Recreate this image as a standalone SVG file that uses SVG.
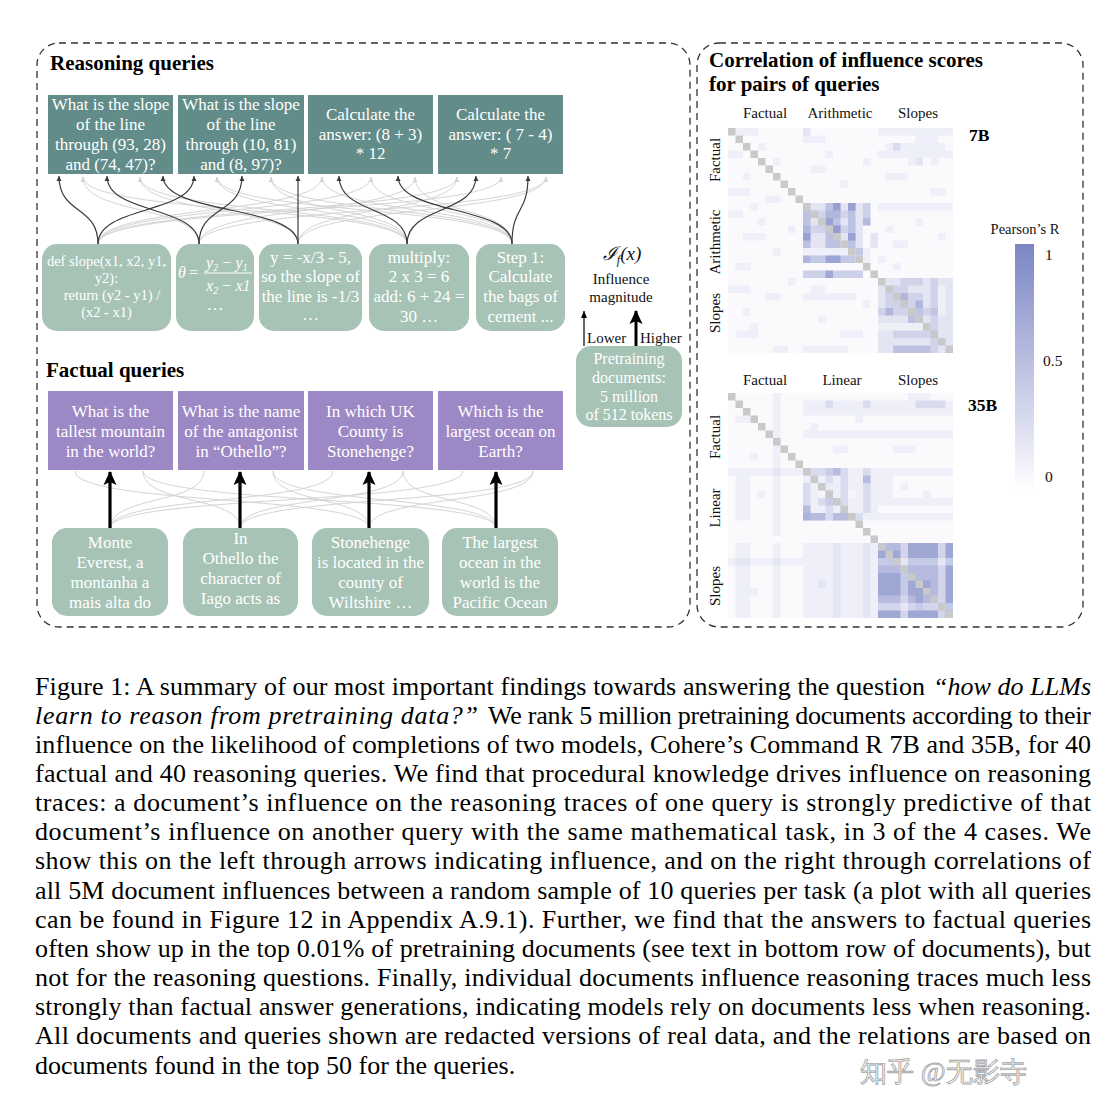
<svg xmlns="http://www.w3.org/2000/svg" width="1119" height="1105" viewBox="0 0 1119 1105">
<style>
text{font-family:"Liberation Serif","Times New Roman",serif;}
.panel{fill:none;stroke:#333;stroke-width:1.3;stroke-dasharray:7 5;}
.h{font-weight:bold;font-size:21px;fill:#000;}
.qr{fill:#618c89;}
.qf{fill:#9c88c5;}
.doc{fill:#a6c3b6;}
.wt{fill:#fff;font-size:17px;text-anchor:middle;}
.dk{fill:none;stroke:#3a3a3a;stroke-width:1.2;}
.gr{fill:none;stroke:#d4d4d4;stroke-width:1;}
.th{fill:none;stroke:#000;stroke-width:3.2;}
.lab{font-size:15px;fill:#111;text-anchor:middle;}
.cap{font-size:26px;fill:#000;}
.hm rect{fill:#7b85c4;}
.hm .b0{opacity:.04}
.hm .b1{opacity:.09}
.hm .b2{opacity:.18}
.hm .b3{opacity:.36}
.hm .b4{opacity:.55}
.hm .w{fill:#fff;opacity:.4}
.dg{fill:#c9c9c9;}
</style>
<defs>
<marker id="ah" markerUnits="userSpaceOnUse" markerWidth="6" markerHeight="6" refX="5" refY="3" orient="auto"><path d="M0,0.5 L5,3 L0,5.5 z" fill="#3a3a3a"/></marker>
<marker id="ag" markerUnits="userSpaceOnUse" markerWidth="6" markerHeight="6" refX="5" refY="3" orient="auto"><path d="M0,0.8 L5,3 L0,5.2 z" fill="#d4d4d4"/></marker>
<marker id="ab" markerUnits="userSpaceOnUse" markerWidth="16" markerHeight="14" refX="13" refY="7" orient="auto"><path d="M0,0.5 L14,7 L0,13.5 L3,7 z" fill="#000"/></marker>
<marker id="ak" markerUnits="userSpaceOnUse" markerWidth="8" markerHeight="8" refX="7" refY="4" orient="auto"><path d="M0,1 L7,4 L0,7 z" fill="#000"/></marker>
<linearGradient id="cb" x1="0" y1="0" x2="0" y2="1"><stop offset="0" stop-color="#7b85c4"/><stop offset="1" stop-color="#ffffff"/></linearGradient>
</defs>

<!-- panels -->
<rect class="panel" x="37" y="43" width="653" height="584" rx="22"/>
<rect class="panel" x="697" y="43" width="386" height="584" rx="22"/>

<text class="h" x="50" y="70">Reasoning queries</text>
<text class="h" x="46" y="377">Factual queries</text>

<!-- connectors -->
<g id="connectors">
<path class="gr" marker-end="url(#ag)" d="M98 244 C98 205 322 215 322 177"/>
<path class="gr" marker-end="url(#ag)" d="M98 244 C98 205 371 215 371 177"/>
<path class="gr" marker-end="url(#ag)" d="M98 244 C98 205 457 215 457 177"/>
<path class="gr" marker-end="url(#ag)" d="M98 244 C98 205 501 215 501 177"/>
<path class="gr" marker-end="url(#ag)" d="M199 244 C199 205 83 215 83 177"/>
<path class="gr" marker-end="url(#ag)" d="M199 244 C199 205 415 215 415 177"/>
<path class="gr" marker-end="url(#ag)" d="M199 244 C199 205 546 215 546 177"/>
<path class="gr" marker-end="url(#ag)" d="M298 244 C298 205 140 215 140 177"/>
<path class="gr" marker-end="url(#ag)" d="M298 244 C298 205 457 215 457 177"/>
<path class="gr" marker-end="url(#ag)" d="M298 244 C298 205 546 215 546 177"/>
<path class="gr" marker-end="url(#ag)" d="M407 244 C407 205 83 215 83 177"/>
<path class="gr" marker-end="url(#ag)" d="M407 244 C407 205 140 215 140 177"/>
<path class="gr" marker-end="url(#ag)" d="M407 244 C407 205 217 215 217 177"/>
<path class="gr" marker-end="url(#ag)" d="M407 244 C407 205 271 215 271 177"/>
<path class="gr" marker-end="url(#ag)" d="M512 244 C512 205 217 215 217 177"/>
<path class="gr" marker-end="url(#ag)" d="M512 244 C512 205 271 215 271 177"/>
<path class="gr" marker-end="url(#ag)" d="M512 244 C512 205 322 215 322 177"/>
<path class="gr" marker-end="url(#ag)" d="M512 244 C512 205 371 215 371 177"/>
<path class="gr" marker-end="url(#ag)" d="M512 244 C512 205 415 215 415 177"/>
<path class="dk" marker-end="url(#ah)" d="M98 244 C98 205 59 215 59 176"/>
<path class="dk" marker-end="url(#ah)" d="M98 244 C98 205 194 215 194 176"/>
<path class="dk" marker-end="url(#ah)" d="M199 244 C199 205 107 215 107 176"/>
<path class="dk" marker-end="url(#ah)" d="M199 244 C199 205 242 215 242 176"/>
<path class="dk" marker-end="url(#ah)" d="M298 244 C298 205 163 215 163 176"/>
<path class="dk" marker-end="url(#ah)" d="M298 244 L298 176"/>
<path class="dk" marker-end="url(#ah)" d="M407 244 C407 205 339 215 339 176"/>
<path class="dk" marker-end="url(#ah)" d="M407 244 C407 205 476 215 476 176"/>
<path class="dk" marker-end="url(#ah)" d="M512 244 C512 205 398 215 398 176"/>
<path class="dk" marker-end="url(#ah)" d="M512 244 C512 205 528 215 528 176"/>
<path class="gr" d="M110 528 C110 495 204 505 204 471"/>
<path class="gr" d="M110 528 C110 495 333 505 333 471"/>
<path class="gr" d="M110 528 C110 495 463 505 463 471"/>
<path class="gr" d="M240 528 C240 495 143 505 143 471"/>
<path class="gr" d="M240 528 C240 495 403 505 403 471"/>
<path class="gr" d="M240 528 C240 495 533 505 533 471"/>
<path class="gr" d="M369 528 C369 495 75 505 75 471"/>
<path class="gr" d="M369 528 C369 495 273 505 273 471"/>
<path class="gr" d="M369 528 C369 495 533 505 533 471"/>
<path class="gr" d="M496 528 C496 495 143 505 143 471"/>
<path class="gr" d="M496 528 C496 495 273 505 273 471"/>
<path class="gr" d="M496 528 C496 495 403 505 403 471"/>
<path class="th" marker-end="url(#ab)" d="M110 529 L110 472"/>
<path class="th" marker-end="url(#ab)" d="M240 529 L240 472"/>
<path class="th" marker-end="url(#ab)" d="M369 529 L369 472"/>
<path class="th" marker-end="url(#ab)" d="M496 529 L496 472"/>
<path d="M584 346 L584 311" fill="none" stroke="#000" stroke-width="1.2" marker-end="url(#ak)"/>
<path d="M636 346 L636 311" fill="none" stroke="#000" stroke-width="3" marker-end="url(#ab)"/>
</g>

<!-- reasoning query nodes -->
<g id="rq1"><rect class="qr" x="48" y="95" width="125" height="79"/>
<text class="wt" x="110.5" y="110">What is the slope</text><text class="wt" x="110.5" y="130">of the line</text><text class="wt" x="110.5" y="150">through (93, 28)</text><text class="wt" x="110.5" y="170">and (74, 47)?</text></g>
<g id="rq2"><rect class="qr" x="178" y="95" width="126" height="79"/>
<text class="wt" x="241" y="110">What is the slope</text><text class="wt" x="241" y="130">of the line</text><text class="wt" x="241" y="150">through (10, 81)</text><text class="wt" x="241" y="170">and (8, 97)?</text></g>
<g id="rq3"><rect class="qr" x="308" y="95" width="125" height="79"/>
<text class="wt" x="370.5" y="120">Calculate the</text><text class="wt" x="370.5" y="140">answer: (8 + 3)</text><text class="wt" x="370.5" y="159">* 12</text></g>
<g id="rq4"><rect class="qr" x="438" y="95" width="125" height="79"/>
<text class="wt" x="500.5" y="120">Calculate the</text><text class="wt" x="500.5" y="140">answer: ( 7 - 4)</text><text class="wt" x="500.5" y="159">* 7</text></g>

<!-- reasoning docs -->
<g id="rd1"><rect class="doc" x="42" y="244" width="129" height="87" rx="15"/>
<text class="wt" style="font-size:14.5px" x="106.5" y="266">def slope(x1, x2, y1,</text><text class="wt" style="font-size:14.5px" x="106.5" y="283">y2):</text><text class="wt" style="font-size:14.5px" x="112" y="300">return (y2 - y1) /</text><text class="wt" style="font-size:14.5px" x="106.5" y="317">(x2 - x1)</text></g>
<g id="rd2"><rect class="doc" x="176" y="244" width="78" height="87" rx="15"/>
<text x="178" y="278" fill="#fff" font-size="16" font-style="italic">θ</text><text x="189" y="278" fill="#fff" font-size="16">=</text>
<text x="206" y="268" fill="#fff" font-size="16" font-style="italic">y<tspan font-size="10.5" dy="3">2</tspan><tspan dy="-3" font-style="normal"> − </tspan>y<tspan font-size="10.5" dy="3">1</tspan></text>
<line x1="204" y1="273" x2="252" y2="273" stroke="#fff" stroke-width="1"/>
<text x="206" y="291" fill="#fff" font-size="16" font-style="italic">x<tspan font-size="10.5" dy="3">2</tspan><tspan dy="-3" font-style="normal"> − </tspan>x1</text>
<text class="wt" x="215" y="310">…</text></g>
<g id="rd3"><rect class="doc" x="259" y="244" width="103" height="87" rx="15"/>
<text class="wt" x="310.5" y="263">y = -x/3 - 5,</text><text class="wt" x="310.5" y="282">so the slope of</text><text class="wt" x="310.5" y="302">the line is -1/3</text><text class="wt" x="310.5" y="320">…</text></g>
<g id="rd4"><rect class="doc" x="369" y="244" width="100" height="87" rx="15"/>
<text class="wt" x="419" y="263">multiply:</text><text class="wt" x="419" y="282">2 x 3 = 6</text><text class="wt" x="419" y="302">add: 6 + 24 =</text><text class="wt" x="419" y="322">30 …</text></g>
<g id="rd5"><rect class="doc" x="476" y="244" width="89" height="87" rx="15"/>
<text class="wt" x="520.5" y="263">Step 1:</text><text class="wt" x="520.5" y="282">Calculate</text><text class="wt" x="520.5" y="302">the bags of</text><text class="wt" x="520.5" y="322">cement ...</text></g>

<!-- legend -->
<g id="legend">
<text x="622" y="260" text-anchor="middle" font-size="19" font-style="italic" fill="#111"><tspan font-family="DejaVu Serif, serif">ℐ</tspan><tspan font-size="12" dy="4">f</tspan><tspan dy="-4">(x)</tspan></text>
<text class="lab" style="font-size:15px" x="621" y="284">Influence</text>
<text class="lab" style="font-size:15px" x="621" y="302">magnitude</text>
<text x="587" y="343" font-size="15" fill="#111">Lower</text>
<text x="640" y="343" font-size="15" fill="#111">Higher</text>
</g>
<g id="pretrain"><rect class="doc" x="576" y="346" width="106" height="81" rx="15"/>
<text class="wt" style="font-size:16px" x="629" y="364">Pretraining</text><text class="wt" style="font-size:16px" x="629" y="383">documents:</text><text class="wt" style="font-size:16px" x="629" y="402">5 million</text><text class="wt" style="font-size:16px" x="629" y="420">of 512 tokens</text></g>

<!-- factual queries -->
<g id="fq1"><rect class="qf" x="48" y="391" width="125" height="79"/>
<text class="wt" x="110.5" y="417">What is the</text><text class="wt" x="110.5" y="437">tallest mountain</text><text class="wt" x="110.5" y="457">in the world?</text></g>
<g id="fq2"><rect class="qf" x="178" y="391" width="126" height="79"/>
<text class="wt" x="241" y="417">What is the name</text><text class="wt" x="241" y="437">of the antagonist</text><text class="wt" x="241" y="457">in “Othello”?</text></g>
<g id="fq3"><rect class="qf" x="308" y="391" width="125" height="79"/>
<text class="wt" x="370.5" y="417">In which UK</text><text class="wt" x="370.5" y="437">County is</text><text class="wt" x="370.5" y="457">Stonehenge?</text></g>
<g id="fq4"><rect class="qf" x="438" y="391" width="125" height="79"/>
<text class="wt" x="500.5" y="417">Which is the</text><text class="wt" x="500.5" y="437">largest ocean on</text><text class="wt" x="500.5" y="457">Earth?</text></g>

<!-- factual docs -->
<g id="fd1"><rect class="doc" x="52" y="528" width="116" height="88" rx="15"/>
<text class="wt" x="110" y="548">Monte</text><text class="wt" x="110" y="568">Everest, a</text><text class="wt" x="110" y="588">montanha a</text><text class="wt" x="110" y="608">mais alta do</text></g>
<g id="fd2"><rect class="doc" x="183" y="528" width="115" height="88" rx="15"/>
<text class="wt" x="240.5" y="544">In</text><text class="wt" x="240.5" y="564">Othello the</text><text class="wt" x="240.5" y="584">character of</text><text class="wt" x="240.5" y="604">Iago acts as</text></g>
<g id="fd3"><rect class="doc" x="312" y="528" width="117" height="88" rx="15"/>
<text class="wt" x="370.5" y="548">Stonehenge</text><text class="wt" x="370.5" y="568">is located in the</text><text class="wt" x="370.5" y="588">county of</text><text class="wt" x="370.5" y="608">Wiltshire …</text></g>
<g id="fd4"><rect class="doc" x="442" y="528" width="116" height="88" rx="15"/>
<text class="wt" x="500" y="548">The largest</text><text class="wt" x="500" y="568">ocean in the</text><text class="wt" x="500" y="588">world is the</text><text class="wt" x="500" y="608">Pacific Ocean</text></g>

<!-- right panel -->
<g id="corr">
<text class="h" x="709" y="67">Correlation of influence scores</text>
<text class="h" x="709" y="91">for pairs of queries</text>
<text class="lab" x="765" y="118">Factual</text><text class="lab" x="840" y="118">Arithmetic</text><text class="lab" x="918" y="118">Slopes</text>
<text class="lab" transform="translate(720,160) rotate(-90)">Factual</text>
<text class="lab" transform="translate(720,242) rotate(-90)">Arithmetic</text>
<text class="lab" transform="translate(720,313) rotate(-90)">Slopes</text>
<text x="969" y="141" font-weight="bold" font-size="17.5">7B</text>
<g class="hm" transform="translate(728,128) scale(7.5)">
<rect class="b0" x="0" y="0" width="30" height="30"/>
<rect class="b1" x="1" y="0" width="3" height="1"/><rect class="b1" x="20" y="0" width="10" height="1"/><rect class="b1" x="10" y="1" width="3" height="1"/><rect class="b1" x="25" y="1" width="3" height="1"/><rect class="b1" x="4" y="2" width="1" height="1"/><rect class="b1" x="21" y="2" width="8" height="1"/><rect class="b1" x="0" y="3" width="2" height="1"/><rect class="b1" x="20" y="3" width="10" height="1"/><rect class="b1" x="13" y="3" width="1" height="1"/><rect class="b1" x="6" y="4" width="1" height="1"/><rect class="b1" x="24" y="4" width="1" height="1"/><rect class="b1" x="27" y="4" width="1" height="1"/><rect class="b1" x="11" y="5" width="2" height="1"/><rect class="b1" x="2" y="6" width="1" height="1"/><rect class="b1" x="21" y="6" width="3" height="1"/><rect class="b1" x="15" y="7" width="1" height="1"/><rect class="b1" x="0" y="8" width="3" height="1"/><rect class="b1" x="27" y="8" width="2" height="1"/><rect class="b1" x="5" y="9" width="2" height="1"/><rect class="b1" x="18" y="4" width="1" height="1"/>
<rect class="b2" x="22" y="2" width="1" height="1"/><rect class="b2" x="25" y="4" width="1" height="1"/><rect class="b2" x="10" y="0" width="1" height="1"/>
<rect class="b1" x="0" y="11" width="2" height="1"/><rect class="b1" x="3" y="10" width="1" height="1"/><rect class="b1" x="2" y="14" width="3" height="1"/><rect class="b1" x="6" y="16" width="1" height="1"/><rect class="b1" x="1" y="18" width="2" height="1"/><rect class="b1" x="4" y="12" width="1" height="1"/><rect class="b1" x="8" y="13" width="1" height="1"/>
<rect class="b2" x="10" y="10" width="8" height="6"/>
<rect class="b3" x="10" y="10" width="1" height="6"/><rect class="b3" x="13" y="10" width="2" height="6"/><rect class="b3" x="16" y="10" width="1" height="6"/><rect class="b3" x="18" y="10" width="1" height="2"/>
<rect class="b2" x="11" y="11" width="5" height="1"/><rect class="b2" x="10" y="13" width="6" height="1"/>
<rect class="b4" x="14" y="10" width="1" height="1"/><rect class="b4" x="16" y="10" width="1" height="1"/><rect class="b4" x="13" y="12" width="1" height="1"/><rect class="b4" x="18" y="12" width="1" height="1"/><rect class="b4" x="10" y="14" width="1" height="1"/><rect class="b4" x="14" y="13" width="1" height="1"/><rect class="b4" x="16" y="14" width="1" height="1"/>
<rect class="b1" x="10" y="16" width="9" height="2"/><rect class="b3" x="17" y="16" width="1" height="1"/>
<rect class="b4" x="10" y="17" width="1" height="1"/><rect class="b3" x="11" y="17" width="6" height="1"/><rect class="b4" x="13" y="17" width="2" height="1"/>
<rect class="b3" x="10" y="19" width="8" height="1"/><rect class="b4" x="13" y="19" width="1" height="1"/><rect class="b2" x="19" y="14" width="1" height="2"/>
<rect class="b1" x="20" y="10" width="10" height="1"/><rect class="b1" x="21" y="13" width="1" height="1"/><rect class="b1" x="22" y="15" width="2" height="1"/><rect class="b1" x="20" y="17" width="1" height="1"/><rect class="b1" x="25" y="12" width="1" height="1"/><rect class="b1" x="28" y="14" width="1" height="1"/><rect class="b1" x="22" y="18" width="1" height="1"/>
<rect class="b1" x="0" y="21" width="3" height="1"/><rect class="b1" x="2" y="24" width="1" height="1"/><rect class="b1" x="5" y="22" width="2" height="1"/><rect class="b1" x="1" y="27" width="3" height="1"/><rect class="b1" x="6" y="29" width="2" height="1"/><rect class="b1" x="3" y="26" width="1" height="1"/><rect class="b1" x="8" y="20" width="1" height="1"/>
<rect class="b1" x="10" y="22" width="7" height="1"/><rect class="b1" x="12" y="25" width="1" height="1"/><rect class="b1" x="15" y="27" width="3" height="1"/><rect class="b1" x="10" y="29" width="6" height="1"/><rect class="b1" x="18" y="23" width="1" height="1"/><rect class="b1" x="11" y="21" width="2" height="1"/>
<rect class="b2" x="20" y="20" width="10" height="10"/>
<rect class="b2" x="21" y="21" width="3" height="3"/><rect class="b2" x="24" y="22" width="2" height="3"/><rect class="b2" x="27" y="20" width="1" height="10"/><rect class="b2" x="20" y="24" width="8" height="1"/><rect class="b2" x="22" y="27" width="6" height="1"/><rect class="b2" x="23" y="20" width="3" height="1"/>
<rect class="b3" x="25" y="23" width="1" height="1"/><rect class="b3" x="23" y="22" width="1" height="1"/><rect class="b3" x="21" y="24" width="1" height="1"/><rect class="b3" x="24" y="25" width="1" height="1"/><rect class="b3" x="22" y="29" width="5" height="1"/>
<rect class="w" x="20" y="26" width="7" height="1"/><rect class="w" x="28" y="21" width="1" height="4"/>
<path class="dg" d="M0 0h1v1h-1zm1 1h1v1h-1zm1 1h1v1h-1zm1 1h1v1h-1zm1 1h1v1h-1zm1 1h1v1h-1zm1 1h1v1h-1zm1 1h1v1h-1zm1 1h1v1h-1zm1 1h1v1h-1zm1 1h1v1h-1zm1 1h1v1h-1zm1 1h1v1h-1zm1 1h1v1h-1zm1 1h1v1h-1zm1 1h1v1h-1zm1 1h1v1h-1zm1 1h1v1h-1zm1 1h1v1h-1zm1 1h1v1h-1zm1 1h1v1h-1zm1 1h1v1h-1zm1 1h1v1h-1zm1 1h1v1h-1zm1 1h1v1h-1zm1 1h1v1h-1zm1 1h1v1h-1zm1 1h1v1h-1zm1 1h1v1h-1zm1 1h1v1h-1z"/>
</g>

<text class="lab" x="765" y="385">Factual</text><text class="lab" x="842" y="385">Linear</text><text class="lab" x="918" y="385">Slopes</text>
<text class="lab" transform="translate(720,437) rotate(-90)">Factual</text>
<text class="lab" transform="translate(720,508) rotate(-90)">Linear</text>
<text class="lab" transform="translate(720,586) rotate(-90)">Slopes</text>
<text x="968" y="411" font-weight="bold" font-size="17.5">35B</text>
<g class="hm" transform="translate(728,393) scale(7.5)">
<rect class="b0" x="0" y="0" width="30" height="30"/>
<rect class="b1" x="6" y="0" width="1" height="10"/><rect class="b1" x="20" y="1" width="10" height="2"/><rect class="b1" x="10" y="1" width="10" height="2"/><rect class="b1" x="20" y="5" width="10" height="1"/><rect class="b1" x="10" y="5" width="10" height="1"/><rect class="b1" x="24" y="0" width="3" height="1"/><rect class="b1" x="11" y="4" width="1" height="1"/><rect class="b1" x="14" y="7" width="2" height="1"/><rect class="b1" x="1" y="3" width="2" height="1"/><rect class="b1" x="3" y="8" width="1" height="1"/><rect class="b1" x="17" y="3" width="1" height="1"/><rect class="b1" x="22" y="7" width="3" height="1"/>
<rect class="b2" x="13" y="1" width="1" height="1"/><rect class="b2" x="25" y="1" width="3" height="1"/><rect class="b2" x="18" y="1" width="1" height="1"/><rect class="b2" x="28" y="1" width="1" height="1"/>
<rect class="b1" x="0" y="10" width="10" height="1"/><rect class="b1" x="1" y="11" width="2" height="6"/><rect class="b1" x="6" y="10" width="1" height="9"/><rect class="b1" x="4" y="13" width="1" height="1"/>
<rect class="b1" x="10" y="10" width="10" height="7"/>
<rect class="b2" x="10" y="10" width="5" height="1"/><rect class="b2" x="13" y="10" width="1" height="6"/><rect class="b2" x="10" y="12" width="1" height="5"/><rect class="b2" x="15" y="10" width="1" height="6"/><rect class="b2" x="12" y="14" width="3" height="1"/><rect class="b2" x="18" y="10" width="1" height="6"/>
<rect class="b3" x="18" y="11" width="1" height="1"/><rect class="b3" x="14" y="10" width="1" height="1"/><rect class="b3" x="10" y="15" width="1" height="1"/>
<rect class="b2" x="10" y="16" width="8" height="1"/><rect class="b3" x="10" y="16" width="3" height="1"/><rect class="b3" x="14" y="16" width="2" height="1"/>
<rect class="w" x="13" y="12" width="1" height="1"/><rect class="w" x="12" y="13" width="1" height="1"/><rect class="w" x="16" y="13" width="1" height="1"/>
<rect class="b1" x="20" y="10" width="10" height="1"/><rect class="b1" x="20" y="14" width="10" height="1"/><rect class="b1" x="20" y="16" width="10" height="1"/><rect class="b1" x="23" y="12" width="1" height="1"/><rect class="b1" x="26" y="13" width="1" height="1"/><rect class="b1" x="20" y="11" width="2" height="3"/>
<rect class="b1" x="1" y="20" width="2" height="10"/><rect class="b1" x="6" y="20" width="1" height="10"/><rect class="b1" x="0" y="22" width="10" height="1"/><rect class="b1" x="3" y="26" width="1" height="1"/>
<rect class="b1" x="10" y="20" width="10" height="10"/><rect class="b1" x="14" y="20" width="1" height="10"/><rect class="b1" x="18" y="20" width="1" height="10"/><rect class="b1" x="12" y="25" width="1" height="1"/>
<rect class="b4" x="20" y="20" width="10" height="10"/>
<rect class="b3" x="20" y="21" width="3" height="2"/><rect class="b3" x="24" y="20" width="4" height="3"/><rect class="b3" x="20" y="24" width="4" height="3"/><rect class="b3" x="24" y="25" width="3" height="2"/><rect class="b3" x="29" y="20" width="1" height="10"/><rect class="b3" x="24" y="29" width="4" height="1"/><rect class="b3" x="20" y="29" width="3" height="1"/><rect class="b3" x="25" y="27" width="1" height="2"/>
<rect class="w" x="20" y="22" width="10" height="1"/><rect class="w" x="23" y="20" width="1" height="10"/><rect class="w" x="28" y="20" width="1" height="10"/><rect class="w" x="20" y="28" width="10" height="1"/>
<path class="dg" d="M0 0h1v1h-1zm1 1h1v1h-1zm1 1h1v1h-1zm1 1h1v1h-1zm1 1h1v1h-1zm1 1h1v1h-1zm1 1h1v1h-1zm1 1h1v1h-1zm1 1h1v1h-1zm1 1h1v1h-1zm1 1h1v1h-1zm1 1h1v1h-1zm1 1h1v1h-1zm1 1h1v1h-1zm1 1h1v1h-1zm1 1h1v1h-1zm1 1h1v1h-1zm1 1h1v1h-1zm1 1h1v1h-1zm1 1h1v1h-1zm1 1h1v1h-1zm1 1h1v1h-1zm1 1h1v1h-1zm1 1h1v1h-1zm1 1h1v1h-1zm1 1h1v1h-1zm1 1h1v1h-1zm1 1h1v1h-1zm1 1h1v1h-1zm1 1h1v1h-1z"/>
</g>

<text x="1025" y="234" text-anchor="middle" font-size="14.5" fill="#111">Pearson’s R</text>
<rect x="1015" y="244" width="19" height="248" fill="url(#cb)"/>
<text x="1045" y="260" font-size="15.5" fill="#111">1</text>
<text x="1043" y="366" font-size="15.5" fill="#111">0.5</text>
<text x="1045" y="482" font-size="15.5" fill="#111">0</text>
</g>

<!-- caption -->
<g id="caption">
<text class="cap" x="35" y="695" textLength="890" lengthAdjust="spacing">Figure 1: A summary of our most important findings towards answering the question</text>
<text class="cap" x="933" y="695" font-style="italic" textLength="158" lengthAdjust="spacing">“how do LLMs</text>
<text class="cap" x="35" y="724" font-style="italic" textLength="443" lengthAdjust="spacing">learn to reason from pretraining data?”</text>
<text class="cap" x="488" y="724" textLength="603" lengthAdjust="spacing">We rank 5 million pretraining documents according to their</text>
<text class="cap" x="35" y="753" textLength="1056" lengthAdjust="spacing">influence on the likelihood of completions of two models, Cohere’s Command R 7B and 35B, for 40</text>
<text class="cap" x="35" y="782" textLength="1056" lengthAdjust="spacing">factual and 40 reasoning queries.  We find that procedural knowledge drives influence on reasoning</text>
<text class="cap" x="35" y="811" textLength="1056" lengthAdjust="spacing">traces:  a document’s influence on the reasoning traces of one query is strongly predictive of that</text>
<text class="cap" x="35" y="840" textLength="1056" lengthAdjust="spacing">document’s influence on another query with the same mathematical task, in 3 of the 4 cases.  We</text>
<text class="cap" x="35" y="869" textLength="1056" lengthAdjust="spacing">show this on the left through arrows indicating influence, and on the right through correlations of</text>
<text class="cap" x="35" y="899" textLength="1056" lengthAdjust="spacing">all 5M document influences between a random sample of 10 queries per task (a plot with all queries</text>
<text class="cap" x="35" y="928" textLength="1056" lengthAdjust="spacing">can be found in Figure 12 in Appendix A.9.1).  Further, we find that the answers to factual queries</text>
<text class="cap" x="35" y="957" textLength="1056" lengthAdjust="spacing">often show up in the top 0.01% of pretraining documents (see text in bottom row of documents), but</text>
<text class="cap" x="35" y="986" textLength="1056" lengthAdjust="spacing">not for the reasoning questions. Finally, individual documents influence reasoning traces much less</text>
<text class="cap" x="35" y="1015" textLength="1056" lengthAdjust="spacing">strongly than factual answer generations, indicating models rely on documents less when reasoning.</text>
<text class="cap" x="35" y="1044" textLength="1056" lengthAdjust="spacing">All documents and queries shown are redacted versions of real data, and the relations are based on</text>
<text class="cap" x="35" y="1074">documents found in the top 50 for the queries.</text>
</g>
<text x="860" y="1081" font-family="'Noto Sans CJK SC', sans-serif" font-size="27" fill="#ffffff" fill-opacity="0.55" stroke="#a8a8a8" stroke-width="0.9">知乎 @无影寺</text>
</svg>
